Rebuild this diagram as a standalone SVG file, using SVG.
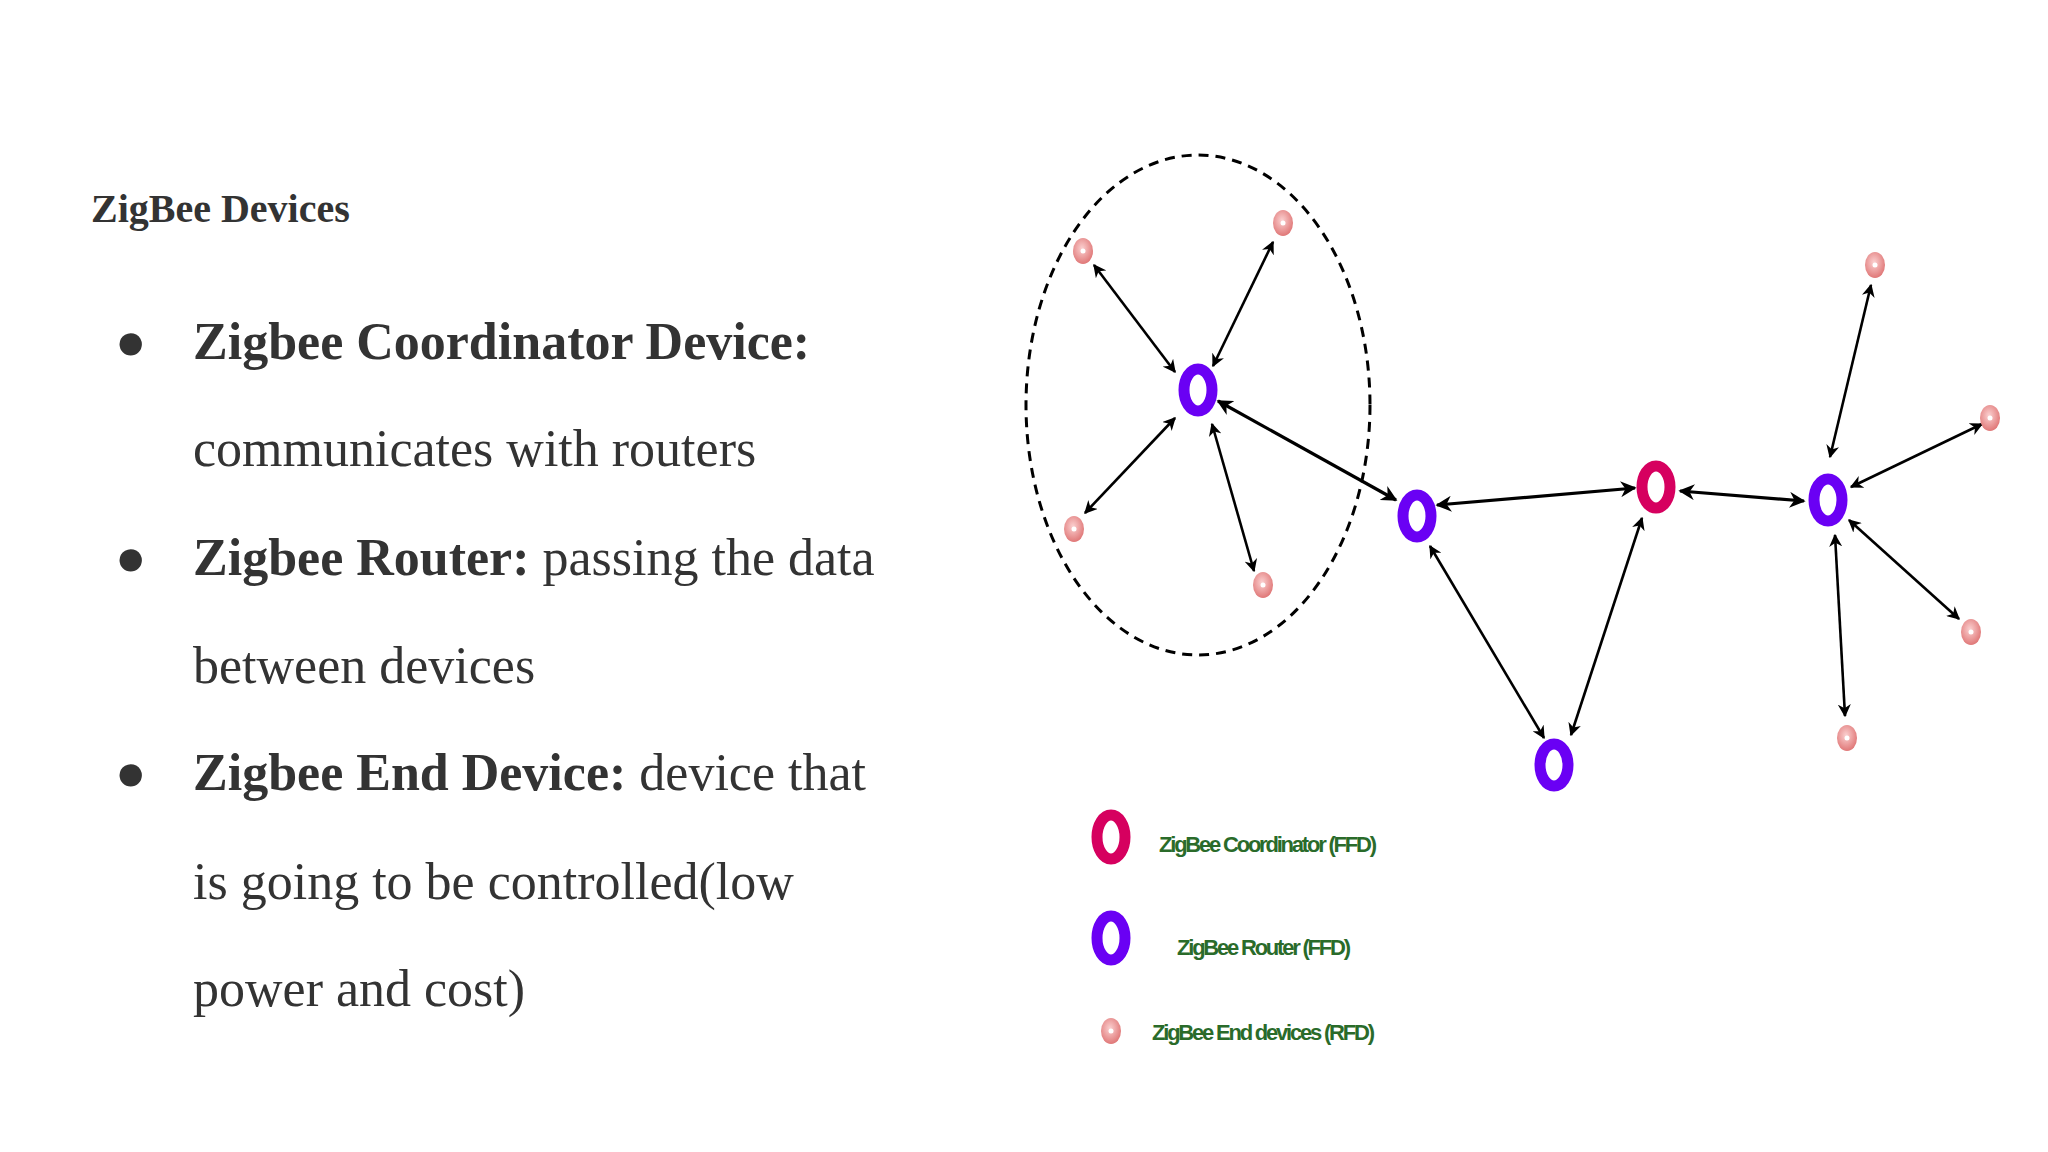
<svg xmlns="http://www.w3.org/2000/svg" width="2048" height="1152" viewBox="0 0 2048 1152">
<defs>
<marker id="ah" viewBox="0 0 10 10" refX="9" refY="5" markerWidth="5" markerHeight="5" orient="auto-start-reverse" markerUnits="strokeWidth"><path d="M0,0 L10,5 L0,10 L3,5 Z" fill="#000"/></marker>
<radialGradient id="eg" cx="0.45" cy="0.4" r="0.6"><stop offset="0" stop-color="#fbd0d0"/><stop offset="1" stop-color="#e07878"/></radialGradient>
</defs>
<style>
.t{font-family:"Liberation Serif",serif;fill:#333;font-size:52px}
.b{font-weight:bold}
.lg{font-family:"Liberation Sans Narrow","Liberation Sans",sans-serif;font-weight:bold;fill:#2a6b2a;font-size:22px}
.c{stroke:#000;stroke-width:2.6;fill:none;marker-start:url(#ah);marker-end:url(#ah)}
.r{fill:none;stroke:#6a00f4;stroke-width:11}
.co{fill:none;stroke:#d6005f;stroke-width:11}
.e{fill:url(#eg)}
</style>
<rect width="2048" height="1152" fill="#fff"/>
<g id="text">
<text x="91" y="222" class="t b" font-size="40" style="font-size:40px">ZigBee Devices</text>
<text x="115" y="359" class="t" font-size="40">●</text>
<text x="193" y="359" class="t b">Zigbee Coordinator Device:</text>
<text x="193" y="466" class="t">communicates with routers</text>
<text x="115" y="575" class="t">●</text>
<text x="193" y="575" class="t"><tspan class="b">Zigbee Router:</tspan> passing the data</text>
<text x="193" y="683" class="t">between devices</text>
<text x="115" y="790" class="t">●</text>
<text x="193" y="790" class="t"><tspan class="b">Zigbee End Device:</tspan> device that</text>
<text x="193" y="899" class="t">is going to be controlled(low</text>
<text x="193" y="1006" class="t">power and cost)</text>
</g>
<g id="boundary"><ellipse cx="1198" cy="405" rx="172" ry="250" fill="none" stroke="#000" stroke-width="3" stroke-dasharray="10,7"/></g>
<g id="connectors">
<line class="c" x1="1094" y1="265" x2="1175" y2="372"/>
<line class="c" x1="1273" y1="242" x2="1213" y2="366"/>
<line class="c" x1="1175" y1="418" x2="1085" y2="513"/>
<line class="c" x1="1212" y1="424" x2="1254" y2="571"/>
<line class="c" x1="1218" y1="401" x2="1396" y2="500" style="stroke-width:3.2"/>
<line class="c" x1="1437" y1="505" x2="1635" y2="488" style="stroke-width:3.2"/>
<line class="c" x1="1680" y1="491" x2="1804" y2="501" style="stroke-width:3.2"/>
<line class="c" x1="1430" y1="546" x2="1544" y2="738"/>
<line class="c" x1="1642" y1="518" x2="1571" y2="735"/>
<line class="c" x1="1871" y1="285" x2="1830" y2="457"/>
<line class="c" x1="1982" y1="424" x2="1851" y2="487"/>
<line class="c" x1="1959" y1="619" x2="1849" y2="520"/>
<line class="c" x1="1845" y1="716" x2="1835" y2="535"/>
</g>
<g id="routerA"><ellipse class="r" cx="1198" cy="390" rx="14" ry="21"/></g>
<g id="routerB"><ellipse class="r" cx="1417" cy="516" rx="14" ry="21"/></g>
<g id="coordinator"><ellipse class="co" cx="1656" cy="487" rx="14" ry="21"/></g>
<g id="routerC"><ellipse class="r" cx="1828" cy="500" rx="14" ry="21"/></g>
<g id="routerD"><ellipse class="r" cx="1554" cy="765" rx="14" ry="21"/></g>
<g id="end1"><ellipse class="e" cx="1083" cy="251" rx="10" ry="13"/><circle cx="1083" cy="251" r="2.5" fill="#fff"/></g>
<g id="end2"><ellipse class="e" cx="1283" cy="223" rx="10" ry="13"/><circle cx="1283" cy="223" r="2.5" fill="#fff"/></g>
<g id="end3"><ellipse class="e" cx="1074" cy="529" rx="10" ry="13"/><circle cx="1074" cy="529" r="2.5" fill="#fff"/></g>
<g id="end4"><ellipse class="e" cx="1263" cy="585" rx="10" ry="13"/><circle cx="1263" cy="585" r="2.5" fill="#fff"/></g>
<g id="end5"><ellipse class="e" cx="1875" cy="265" rx="10" ry="13"/><circle cx="1875" cy="265" r="2.5" fill="#fff"/></g>
<g id="end6"><ellipse class="e" cx="1990" cy="418" rx="10" ry="13"/><circle cx="1990" cy="418" r="2.5" fill="#fff"/></g>
<g id="end7"><ellipse class="e" cx="1971" cy="632" rx="10" ry="13"/><circle cx="1971" cy="632" r="2.5" fill="#fff"/></g>
<g id="end8"><ellipse class="e" cx="1847" cy="738" rx="10" ry="13"/><circle cx="1847" cy="738" r="2.5" fill="#fff"/></g>
<g id="legend">
<ellipse class="co" cx="1111" cy="837" rx="14" ry="22"/>
<text x="1159" y="852" class="lg" textLength="218">ZigBee Coordinator (FFD)</text>
<ellipse class="r" cx="1111" cy="938" rx="14" ry="22"/>
<text x="1177" y="955" class="lg" textLength="174">ZigBee Router (FFD)</text>
<ellipse class="e" cx="1111" cy="1031" rx="10" ry="13"/><circle cx="1111" cy="1031" r="2.5" fill="#fff"/>
<text x="1152" y="1040" class="lg" textLength="223">ZigBee End devices (RFD)</text>
</g>
</svg>
